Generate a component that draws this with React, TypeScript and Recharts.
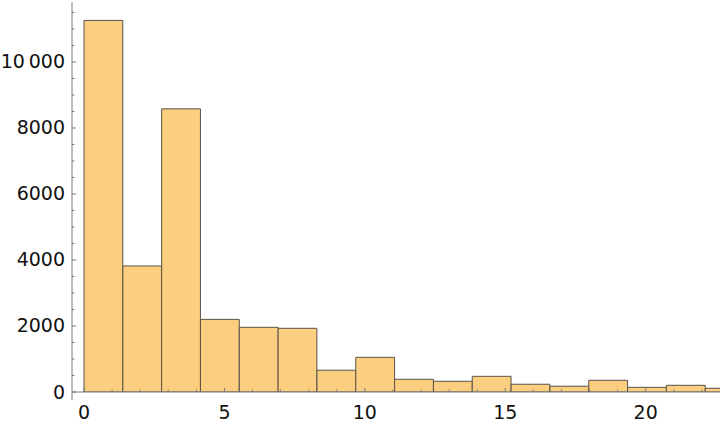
import React from "react";
import { BarChart, Bar, XAxis, YAxis } from "recharts";

// Histogram bin centres (x) and counts
const binCenters = [0.691, 2.074, 3.456, 4.838, 6.221, 7.603, 8.986, 10.368, 11.751, 13.133, 14.515, 15.898, 17.28, 18.663, 20.045, 21.428, 22.81];
const counts = [11260, 3820, 8580, 2200, 1960, 1930, 660, 1050, 385, 325, 475, 235, 175, 355, 142, 203, 112];

const xTicks = [0, 1, 2, 3, 4, 5, 6, 7, 8, 9, 10, 11, 12, 13, 14, 15, 16, 17, 18, 19, 20, 21, 22];
const xLabelTicks = [0, 5, 10, 15, 20];
const yTicks = [0, 500, 1000, 1500, 2000, 2500, 3000, 3500, 4000, 4500, 5000, 5500, 6000, 6500, 7000, 7500, 8000, 8500, 9000, 9500, 10000, 10500, 11000, 11500];
const yLabelTicks = [0, 2000, 4000, 6000, 8000, 10000];

const data = binCenters.map((x, i) => ({ x, count: counts[i] }));

const W = 720;
const H = 424;
const LEFT = 72;
const X_MIN = -0.427;
const X_MAX = 22.645;
const BIN_W = 1.382;
const BAR_PX = (BIN_W * (W - LEFT)) / (X_MAX - X_MIN) - 0.02;

const AXIS = "#7a7a7a";
const FONT = "'DejaVu Sans', sans-serif";

const fmt = (v: number) => (v >= 10000 ? String(v).replace(/(\d)(\d{3})$/, "$1\u2009$2") : String(v));

const YTick = (props: any) => {
  const { x, y, payload } = props;
  const v = payload.value as number;
  const major = yLabelTicks.includes(v);
  return (
    <g>
      <line x1={x} x2={x + (major ? 4 : 2.5)} y1={y} y2={y} stroke={AXIS} strokeWidth={1} />
      {v === 0 && <line x1={x} x2={x} y1={y} y2={y + 8} stroke={AXIS} strokeWidth={1} />}
      {major && (
        <text x={x - 7} y={y} dy={6.5} textAnchor="end" fontSize={19} fontFamily={FONT} fill="#111">
          {fmt(v)}
        </text>
      )}
    </g>
  );
};

const XTick = (props: any) => {
  const { x, y, payload } = props;
  const v = payload.value as number;
  const major = xLabelTicks.includes(v);
  return (
    <g>
      <line x1={x} x2={x} y1={y} y2={y - (major ? 4 : 2.5)} stroke={AXIS} strokeWidth={1} />
      {major && (
        <text x={x} y={y + 26.5} textAnchor="middle" fontSize={19} fontFamily={FONT} fill="#111">
          {v}
        </text>
      )}
    </g>
  );
};

export default function App() {
  return (
    <div style={{ position: "absolute", left: 0, top: 0, width: W, height: H, background: "#fff" }}>
      <BarChart width={W} height={H} data={data} margin={{ top: 2, right: 0, left: 0, bottom: 0 }} barCategoryGap={0} barGap={0}>
        <Bar
          dataKey="count"
          fill="#FCCF80"
          stroke="#5a5248"
          strokeWidth={1}
          barSize={BAR_PX}
          isAnimationActive={false}
        />
        <XAxis
          dataKey="x"
          type="number"
          domain={[X_MIN, X_MAX]}
          allowDataOverflow
          ticks={xTicks}
          interval={0}
          height={32}
          tickSize={0}
          tickMargin={0}
          tick={<XTick />}
          axisLine={{ stroke: AXIS }}
          tickLine={false}
        />
        <YAxis
          type="number"
          domain={[0, 11818]}
          allowDataOverflow
          ticks={yTicks}
          interval={0}
          width={LEFT}
          tickSize={0}
          tickMargin={0}
          tick={<YTick />}
          axisLine={{ stroke: AXIS }}
          tickLine={false}
        />
      </BarChart>
    </div>
  );
}
